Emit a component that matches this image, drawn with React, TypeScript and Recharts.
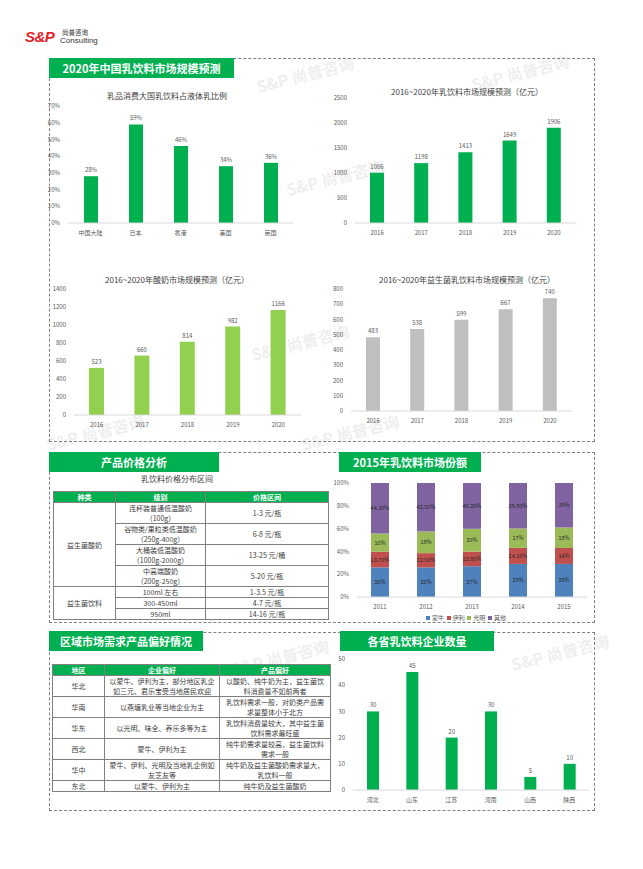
import React from 'react';
import { BarChart, Bar, XAxis, YAxis, LabelList } from 'recharts';

// ---- data ----
const countries = ['中国大陆', '日本', '香港', '美国', '英国'];
const drinkShare = [28, 59, 46, 34, 36];
const shareTicks = [0, 10, 20, 30, 40, 50, 60, 70];

const years = ['2016', '2017', '2018', '2019', '2020'];
const drinkMarket = [1006, 1198, 1413, 1649, 1906];
const drinkTicks = [0, 500, 1000, 1500, 2000, 2500];
const yogurtMarket = [523, 660, 814, 982, 1166];
const yogurtTicks = [0, 200, 400, 600, 800, 1000, 1200, 1400];
const probioticMarket = [483, 538, 599, 667, 740];
const probioticTicks = [0, 100, 200, 300, 400, 500, 600, 700, 800];

const shareYears = ['2011', '2012', '2013', '2014', '2015'];
const mengniu = [26, 26, 27, 29, 29];
const yili = [13.7, 12.5, 12.8, 14.1, 14];
const guangming = [16, 19, 20, 17, 18];
const others = [44.3, 42.5, 40.2, 39.9, 39];
const percentTicks = [0, 10, 20, 30, 40, 50, 60, 70, 80, 90, 100];

const provinces = ['河北', '山东', '江苏', '河南', '山西', '陕西'];
const companyCounts = [30, 45, 20, 30, 5, 10];
const companyTicks = [0, 5, 10, 15, 20, 25, 30, 35, 40, 45, 50];

const FONT = '"Noto Sans CJK SC", "Noto Sans", sans-serif';
const GREEN = '#00B050';
const TICK = { fontSize: 6, fill: '#595959', fontFamily: FONT };

function SimpleBar(props: any) {
  const { left, top, width, height, cats, values, color, barSize, ticks, fmt, mRight = 5 } = props;
  const data = cats.map((c: string, i: number) => ({ name: c, value: values[i] }));
  return (
    <div style={{ position: 'absolute', left, top }}>
      <BarChart width={width} height={height} data={data} margin={{ top: 6, right: mRight, left: 0, bottom: 2 }}>
        <XAxis dataKey="name" interval={0} tickLine={false} axisLine={{ stroke: '#d9d9d9' }} tick={TICK} height={15} />
        <YAxis
          width={30}
          ticks={ticks}
          domain={[ticks[0], ticks[ticks.length - 1]]}
          axisLine={false}
          tickLine={false}
          tick={TICK}
          tickFormatter={fmt}
        />
        <Bar dataKey="value" fill={color} barSize={barSize} isAnimationActive={false}>
          <LabelList dataKey="value" position="top" offset={4} style={TICK} formatter={fmt} />
        </Bar>
      </BarChart>
    </div>
  );
}

function Header({ left, top, width, text }: any) {
  return (
    <div
      style={{
        position: 'absolute', left, top, width, height: 20, background: GREEN, color: '#fff',
        fontWeight: 700, fontSize: 11, lineHeight: '20px', textAlign: 'center', fontFamily: FONT,
      }}
    >
      {text}
    </div>
  );
}

function Title({ cx, top, text }: any) {
  return (
    <div
      style={{
        position: 'absolute', left: cx - 150, width: 300, top, textAlign: 'center',
        fontSize: 8, color: '#404040', fontFamily: FONT, whiteSpace: 'nowrap',
      }}
    >
      {text}
    </div>
  );
}

function Box({ left, top, width, height }: any) {
  return <div style={{ position: 'absolute', left, top, width, height, border: '1px dashed #808080', boxSizing: 'border-box' }} />;
}

const cell = (extra: any = {}) => ({
  border: '1px solid #808080', padding: 0, textAlign: 'center' as const, verticalAlign: 'middle' as const,
  fontSize: 7, lineHeight: '10px', color: '#404040', whiteSpace: 'nowrap' as const, ...extra,
});
const headCell = cell({ background: GREEN, color: '#fff', fontWeight: 700, height: 9 });

const priceRows = [
  ['连杯装普通低温酸奶', '（100g）', '1-3 元/瓶'],
  ['谷物类/果粒类低温酸奶', '（250g-400g）', '6-8 元/瓶'],
  ['大桶装低温酸奶', '（1000g-2000g）', '13-25 元/桶'],
  ['中高端酸奶', '（200g-250g）', '5-20 元/瓶'],
];
const drinkRows = [
  ['100ml 左右', '1-3.5 元/瓶'],
  ['300-450ml', '4-7 元/瓶'],
  ['950ml', '14-16 元/瓶'],
];

const regionRows = [
  ['华北', ['以蒙牛、伊利为主，部分地区乳企', '如三元、君乐宝受当地居民欢迎'], ['以酸奶、纯牛奶为主，益生菌饮', '料消费量不如前两者']],
  ['华南', ['以燕塘乳业等当地企业为主'], ['乳饮料需求一般，对奶类产品需', '求量整体小于北方']],
  ['华东', ['以光明、味全、养乐多等为主'], ['乳饮料消费量较大，其中益生菌', '饮料需求最旺盛']],
  ['西北', ['蒙牛、伊利为主'], ['纯牛奶需求量较高，益生菌饮料', '需求一般']],
  ['华中', ['蒙牛、伊利、光明及当地乳企例如', '友芝友等'], ['纯牛奶及益生菌酸奶需求量大，', '乳饮料一般']],
  ['东北', ['以蒙牛、伊利为主'], ['纯牛奶及益生菌酸奶']],
];

const lines = (arr: string[]) => arr.map((t, i) => (
  <React.Fragment key={i}>{i > 0 && <br />}{t}</React.Fragment>
));

const watermarks = [
  { x: 255, y: 62, t: 'S&P 尚普咨询' },
  { x: 470, y: 60, t: 'S&P 尚普咨询' },
  { x: 285, y: 165, t: 'S&P 尚普咨询' },
  { x: 250, y: 330, t: 'S&P 尚普咨询' },
  { x: 45, y: 420, t: 'S&P 尚普咨询' },
  { x: 300, y: 420, t: 'S&P 尚普咨询' },
  { x: 510, y: 640, t: 'S&P 尚普咨询' },
  { x: 230, y: 645, t: 'S&P 尚普咨询' },
];

function pctFmt(v: any) {
  const n = Number(v);
  return Number.isInteger(n) ? `${n}%` : `${n.toFixed(2)}%`;
}

export default function App() {
  const shareData = shareYears.map((y, i) => ({
    name: y, mengniu: mengniu[i], yili: yili[i], guangming: guangming[i], others: others[i],
  }));
  const stackSeries = [
    { key: 'mengniu', name: '蒙牛', color: '#4F81BD' },
    { key: 'yili', name: '伊利', color: '#C0504D' },
    { key: 'guangming', name: '光明', color: '#9BBB59' },
    { key: 'others', name: '其他', color: '#8064A2' },
  ];
  return (
    <div style={{ position: 'absolute', left: 0, top: 0, width: 643, height: 869, background: '#fff', fontFamily: FONT, overflow: 'hidden' }}>
      {/* watermarks */}
      {watermarks.map((w, i) => (
        <div key={i} style={{ position: 'absolute', left: w.x, top: w.y, fontSize: 16, fontWeight: 700, color: '#efefef', transform: 'rotate(-14deg)', whiteSpace: 'nowrap' }}>
          {w.t}
        </div>
      ))}

      {/* logo */}
      <div style={{ position: 'absolute', left: 25, top: 29, fontSize: 15, lineHeight: '16px', fontWeight: 900, fontStyle: 'italic', color: '#E3242B', fontFamily: 'Liberation Sans, sans-serif', letterSpacing: -0.5 }}>S&amp;P</div>
      <div style={{ position: 'absolute', left: 62, top: 29, fontSize: 6.5, lineHeight: '7px', color: '#333' }}>尚普咨询</div>
      <div style={{ position: 'absolute', left: 60, top: 37, fontSize: 8, lineHeight: '8px', color: '#333', fontFamily: 'Liberation Sans, sans-serif' }}>Consulting</div>

      {/* section 1 */}
      <Box left={49} top={58} width={546} height={384} />
      <Header left={49} top={58} width={185} text="2020年中国乳饮料市场规模预测" />

      <Title cx={167} top={90} text="乳品消费大国乳饮料占液体乳比例" />
      <SimpleBar left={38} top={100} width={262} height={140} cats={countries} values={drinkShare}
        color={GREEN} barSize={14} ticks={shareTicks} fmt={(v: any) => `${v}%`} mRight={7} />

      <Title cx={467} top={86} text="2016~2020年乳饮料市场规模预测（亿元）" />
      <SimpleBar left={325} top={92} width={256} height={148} cats={years} values={drinkMarket}
        color={GREEN} barSize={14} ticks={drinkTicks} />

      <Title cx={177} top={274} text="2016~2020年酸奶市场规模预测（亿元）" />
      <SimpleBar left={44} top={283} width={262} height={149} cats={years} values={yogurtMarket}
        color="#92D050" barSize={15} ticks={yogurtTicks} />

      <Title cx={467} top={274} text="2016~2020年益生菌乳饮料市场规模预测（亿元）" />
      <SimpleBar left={321} top={283} width={256} height={145} cats={years} values={probioticMarket}
        color="#BFBFBF" barSize={14} ticks={probioticTicks} />

      {/* section 2 */}
      <Box left={49} top={452} width={546} height={171} />
      <Header left={49} top={452} width={170} text="产品价格分析" />
      <Title cx={177} top={473} text="乳饮料价格分布区间" />
      <table style={{ position: 'absolute', left: 53, top: 491, width: 275, borderCollapse: 'collapse', tableLayout: 'fixed', fontFamily: FONT }}>
        <colgroup><col style={{ width: 62 }} /><col style={{ width: 90 }} /><col style={{ width: 123 }} /></colgroup>
        <tbody>
          <tr><td style={headCell}>种类</td><td style={headCell}>级别</td><td style={headCell}>价格区间</td></tr>
          {priceRows.map((r, i) => (
            <tr key={i}>
              {i === 0 && <td rowSpan={4} style={cell()}>益生菌酸奶</td>}
              <td style={cell({ height: 20 })}>{r[0]}<br />{r[1]}</td>
              <td style={cell()}>{r[2]}</td>
            </tr>
          ))}
          {drinkRows.map((r, i) => (
            <tr key={'d' + i}>
              {i === 0 && <td rowSpan={3} style={cell()}>益生菌饮料</td>}
              <td style={cell({ height: 10 })}>{r[0]}</td>
              <td style={cell()}>{r[1]}</td>
            </tr>
          ))}
        </tbody>
      </table>

      <Header left={339} top={452} width={142} text="2015年乳饮料市场份额" />
      <div style={{ position: 'absolute', left: 327, top: 477 }}>
        <BarChart width={265} height={137} data={shareData} margin={{ top: 6, right: 5, left: 0, bottom: 2 }}>
          <XAxis dataKey="name" interval={0} tickLine={false} axisLine={{ stroke: '#d9d9d9' }} tick={TICK} height={15} />
          <YAxis width={30} ticks={percentTicks} domain={[0, 100]} axisLine={false} tickLine={false} tick={TICK}
            tickFormatter={(v: any) => `${v}%`} />
          {stackSeries.map((s) => (
            <Bar key={s.key} dataKey={s.key} name={s.name} stackId="a" fill={s.color} barSize={18} isAnimationActive={false}>
              <LabelList dataKey={s.key} position="center" formatter={pctFmt}
                style={{ fontSize: 5.5, fill: '#262626', fontFamily: FONT }} />
            </Bar>
          ))}
        </BarChart>
      </div>
      <div style={{ position: 'absolute', left: 426, top: 614, width: 80, display: 'flex', justifyContent: 'space-between', fontSize: 6, lineHeight: '7px', color: '#595959' }}>
        {stackSeries.map((s) => (
          <span key={s.key} style={{ display: 'flex', alignItems: 'center', whiteSpace: 'nowrap' }}>
            <span style={{ width: 4, height: 4, background: s.color, display: 'inline-block', marginRight: 2 }} />
            {s.name}
          </span>
        ))}
      </div>

      {/* section 3 */}
      <Box left={49} top={632} width={546} height={179} />
      <Header left={49} top={631} width={154} text="区域市场需求产品偏好情况" />
      <table style={{ position: 'absolute', left: 52, top: 664, width: 278, borderCollapse: 'collapse', tableLayout: 'fixed', fontFamily: FONT }}>
        <colgroup><col style={{ width: 52 }} /><col style={{ width: 115 }} /><col style={{ width: 111 }} /></colgroup>
        <tbody>
          <tr><td style={headCell}>地区</td><td style={headCell}>企业偏好</td><td style={headCell}>产品偏好</td></tr>
          {regionRows.map((r: any, i) => (
            <tr key={i}>
              <td style={cell({ height: i === 5 ? 10 : 20 })}>{r[0]}</td>
              <td style={cell()}>{lines(r[1])}</td>
              <td style={cell()}>{lines(r[2])}</td>
            </tr>
          ))}
        </tbody>
      </table>

      <Header left={340} top={631} width={154} text="各省乳饮料企业数量" />
      <SimpleBar left={323} top={653} width={271} height={154} cats={provinces} values={companyCounts}
        color={GREEN} barSize={12} ticks={companyTicks} />
    </div>
  );
}
